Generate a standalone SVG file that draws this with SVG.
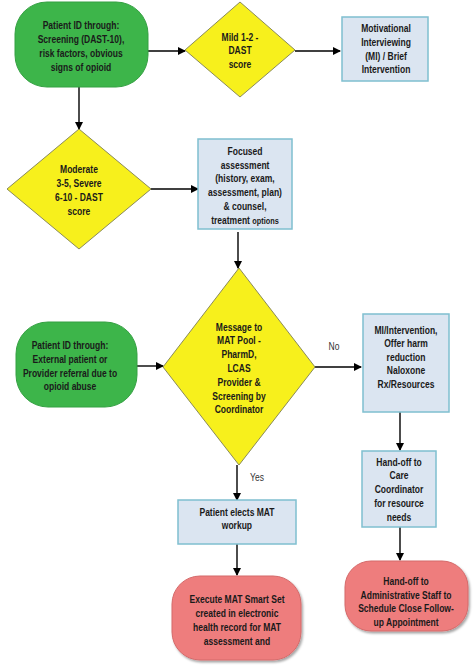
<svg xmlns="http://www.w3.org/2000/svg" width="474" height="668" viewBox="0 0 474 668">
<defs>
<marker id="ah" markerWidth="8" markerHeight="8" refX="7" refY="4" orient="auto" markerUnits="userSpaceOnUse">
<path d="M0,0 L8,4 L0,8 Z" fill="#000"/>
</marker>
<filter id="sh" x="-10%" y="-10%" width="125%" height="130%">
<feDropShadow dx="1.5" dy="2" stdDeviation="1.2" flood-color="#000" flood-opacity="0.35"/>
</filter>
</defs>
<style>
text{font-family:"Liberation Sans",Arial,sans-serif;font-weight:bold;font-size:10.4px;fill:#1a1a1a;text-anchor:middle;transform-box:fill-box;transform-origin:center;transform:scaleX(0.82)}
.green{fill:#3db54a;stroke:#35a043;stroke-width:1}
.yellow{fill:#f7f01c;stroke:#8a8a5a;stroke-width:1}
.blue{fill:#dbe5f1;stroke:#7fbfcf;stroke-width:1.5}
.red{fill:#ee7d7d;stroke:#d46a6a;stroke-width:1}
.conn{stroke:#000;stroke-width:1.4;fill:none;marker-end:url(#ah)}
text.lbl{font-weight:normal;fill:#333}
.small{font-size:9px}
</style>
<rect width="474" height="668" fill="#fff"/>
<g id="connectors">
<line class="conn" x1="148" y1="51" x2="185" y2="51"/>
<line class="conn" x1="295" y1="51" x2="340" y2="51"/>
<line class="conn" x1="79" y1="87" x2="79" y2="129"/>
<line class="conn" x1="151" y1="189" x2="198" y2="189"/>
<line class="conn" x1="238" y1="232" x2="238" y2="268"/>
<line class="conn" x1="137" y1="366" x2="163" y2="366"/>
<line class="conn" x1="315" y1="367" x2="361" y2="367"/>
<line class="conn" x1="400" y1="412" x2="400" y2="450"/>
<line class="conn" x1="400" y1="527" x2="400" y2="560"/>
<line class="conn" x1="237" y1="465" x2="237" y2="500"/>
<line class="conn" x1="237" y1="544" x2="237" y2="575"/>
<text class="lbl" x="334" y="350">No</text>
<text class="lbl" x="257" y="481">Yes</text>
</g>
<g id="n1">
<rect class="green" x="15" y="2" width="133" height="85" rx="32" ry="32"/>
<text x="81" y="29">Patient ID through:</text>
<text x="81" y="43">Screening (DAST-10),</text>
<text x="81" y="57">risk factors, obvious</text>
<text x="81" y="71">signs of opioid</text>
</g>
<g id="n2">
<polygon class="yellow" points="240,2 295,50 240,97 185,50"/>
<text x="240" y="41">Mild 1-2 -</text>
<text x="240" y="54">DAST</text>
<text x="240" y="68">score</text>
</g>
<g id="n3">
<rect class="blue" x="342" y="17" width="86" height="64"/>
<text x="386" y="32">Motivational</text>
<text x="386" y="46">Interviewing</text>
<text x="386" y="60">(MI) / Brief</text>
<text x="386" y="73">Intervention</text>
</g>
<g id="n4">
<polygon class="yellow" points="79,129 151,189 79,249 7,189"/>
<text x="79" y="173">Moderate</text>
<text x="79" y="187">3-5, Severe</text>
<text x="79" y="201">6-10 - DAST</text>
<text x="79" y="215">score</text>
</g>
<g id="n5">
<rect class="blue" x="198" y="139" width="94" height="90"/>
<text x="245" y="155">Focused</text>
<text x="245" y="169">assessment</text>
<text x="245" y="182">(history, exam,</text>
<text x="245" y="196">assessment, plan)</text>
<text x="245" y="210">&amp; counsel,</text>
<text x="245" y="224">treatment <tspan class="small">options</tspan></text>
</g>
<g id="n6">
<rect class="green" x="16" y="322" width="121" height="85" rx="32" ry="32"/>
<text x="70" y="349">Patient ID through:</text>
<text x="70" y="363">External patient or</text>
<text x="70" y="377">Provider referral due to</text>
<text x="70" y="390">opioid abuse</text>
</g>
<g id="n7">
<polygon class="yellow" points="239,268 315,367 239,465 163,367"/>
<text x="239" y="331">Message to</text>
<text x="239" y="344">MAT Pool -</text>
<text x="239" y="358">PharmD,</text>
<text x="239" y="372">LCAS</text>
<text x="239" y="386">Provider &amp;</text>
<text x="239" y="400">Screening by</text>
<text x="239" y="413">Coordinator</text>
</g>
<g id="n8">
<rect class="blue" x="363" y="314" width="86" height="98"/>
<text x="406" y="334">MI/Intervention,</text>
<text x="406" y="347">Offer harm</text>
<text x="406" y="361">reduction</text>
<text x="406" y="374">Naloxone</text>
<text x="406" y="388">Rx/Resources</text>
</g>
<g id="n9">
<rect class="blue" x="362" y="451" width="74" height="76"/>
<text x="399" y="466">Hand-off to</text>
<text x="399" y="479">Care</text>
<text x="399" y="493">Coordinator</text>
<text x="399" y="507">for resource</text>
<text x="399" y="521">needs</text>
</g>
<g id="n10">
<rect class="red" x="345" y="561" width="123" height="70" rx="26" ry="26" filter="url(#sh)"/>
<text x="406" y="585">Hand-off to</text>
<text x="406" y="599">Administrative Staff to</text>
<text x="406" y="612">Schedule Close Follow-</text>
<text x="406" y="626">up Appointment</text>
</g>
<g id="n11">
<rect class="blue" x="178" y="500" width="118" height="44"/>
<text x="237" y="516">Patient elects MAT</text>
<text x="237" y="529">workup</text>
</g>
<g id="n12">
<rect class="red" x="172" y="576" width="129" height="84" rx="28" ry="28" filter="url(#sh)"/>
<text x="237" y="603">Execute MAT Smart Set</text>
<text x="237" y="617">created in electronic</text>
<text x="237" y="631">health record for MAT</text>
<text x="237" y="645">assessment and</text>
</g>
</svg>
